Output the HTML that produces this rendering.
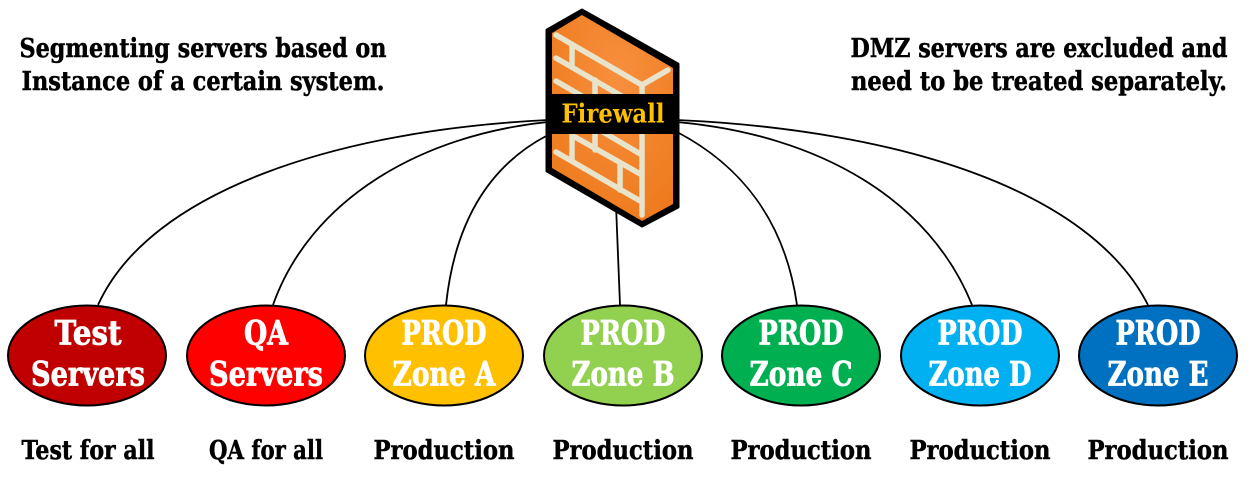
<!DOCTYPE html>
<html>
<head>
<meta charset="utf-8">
<style>
html,body{margin:0;padding:0;background:#fff}
svg{display:block}
text{font-family:"DejaVu Serif","Liberation Serif",serif;font-weight:bold;text-anchor:middle}
.k{font-size:26.5px;fill:#000;stroke:#000;stroke-width:.5px}
.n{font-size:33.5px;fill:#fff;stroke:#fff;stroke-width:.8px}
</style>
</head>
<body>
<svg width="1251" height="480" viewBox="0 0 1251 480" xmlns="http://www.w3.org/2000/svg">
<defs>
<radialGradient id="g" cx="0.55" cy="0.3" r="0.75">
<stop offset="0" stop-color="#f78f3e"/>
<stop offset="1" stop-color="#ee7a1c"/>
</radialGradient>
</defs>
<g fill="none" stroke="#000" stroke-width="1.8">
<path d="M98 305C150 190 340 130 548 120"/>
<path d="M273 305C310 200 420 135 548 122"/>
<path d="M446 305C455 220 490 165 548 135"/>
<path d="M616 205L620 305"/>
<path d="M797 305C785 220 740 165 677 132"/>
<path d="M972 305C930 200 820 135 677 122"/>
<path d="M1148 305C1090 190 900 130 677 120"/>
</g>
<polygon points="582,10 547,30 547,171 642,226 678,207 678,64" fill="#000" stroke="#000" stroke-width="3" stroke-linejoin="round"/>
<polygon points="582,15 552,33 552,168 642,221 673,204 673,68" fill="url(#g)"/>
<g fill="none" stroke="#e8e4cc" stroke-width="5.5" stroke-linecap="round">
<path d="M556 35L642 85M668 70L642 85L642 215"/>
<path d="M556 58L625 98"/>
<path d="M556 81L592 102"/>
<path d="M556 152L642 202"/>
<path d="M572 47V67"/>
<path d="M595 80V100M595 130V150"/>
<path d="M572 132V160"/>
<path d="M620 166V190"/>
<path d="M575 137L642 175"/>
<path d="M603 132L642 155"/>
</g>
<rect x="546" y="94" width="133" height="40" fill="#000"/>
<text x="613" y="122.500" font-size="26" fill="#ffc000" textLength="103" lengthAdjust="spacingAndGlyphs">Firewall</text>

<text class="k" x="203" y="57" textLength="367" lengthAdjust="spacingAndGlyphs">Segmenting servers based on</text>
<text class="k" x="203" y="90" textLength="363" lengthAdjust="spacingAndGlyphs">Instance of a certain system.</text>
<text class="k" x="1039" y="57" textLength="377" lengthAdjust="spacingAndGlyphs">DMZ servers are excluded and</text>
<text class="k" x="1039" y="90" textLength="376" lengthAdjust="spacingAndGlyphs">need to be treated separately.</text>

<g stroke="#000" stroke-width="2">
<ellipse cx="87" cy="355.500" rx="79" ry="50" fill="#c00000"/>
<ellipse cx="266" cy="355.500" rx="79" ry="50" fill="#ff0000"/>
<ellipse cx="444" cy="355.500" rx="79" ry="50" fill="#ffc000"/>
<ellipse cx="623" cy="355.500" rx="79" ry="50" fill="#92d050"/>
<ellipse cx="801" cy="355.500" rx="79" ry="50" fill="#00b050"/>
<ellipse cx="980" cy="355.500" rx="79" ry="50" fill="#00b0f0"/>
<ellipse cx="1158" cy="355.500" rx="79" ry="50" fill="#0070c0"/>
</g>

<text class="n" x="88" y="344.500" textLength="67" lengthAdjust="spacingAndGlyphs">Test</text>
<text class="n" x="88" y="385.500" textLength="114" lengthAdjust="spacingAndGlyphs">Servers</text>
<text class="n" x="266" y="344.500" textLength="44" lengthAdjust="spacingAndGlyphs">QA</text>
<text class="n" x="266" y="385.500" textLength="114" lengthAdjust="spacingAndGlyphs">Servers</text>
<text class="n" x="444" y="344.500" textLength="85" lengthAdjust="spacingAndGlyphs">PROD</text>
<text class="n" x="444" y="385.500" textLength="103" lengthAdjust="spacingAndGlyphs">Zone A</text>
<text class="n" x="623" y="344.500" textLength="85" lengthAdjust="spacingAndGlyphs">PROD</text>
<text class="n" x="623" y="385.500" textLength="103" lengthAdjust="spacingAndGlyphs">Zone B</text>
<text class="n" x="801" y="344.500" textLength="85" lengthAdjust="spacingAndGlyphs">PROD</text>
<text class="n" x="801" y="385.500" textLength="103" lengthAdjust="spacingAndGlyphs">Zone C</text>
<text class="n" x="980" y="344.500" textLength="85" lengthAdjust="spacingAndGlyphs">PROD</text>
<text class="n" x="980" y="385.500" textLength="103" lengthAdjust="spacingAndGlyphs">Zone D</text>
<text class="n" x="1158" y="344.500" textLength="85" lengthAdjust="spacingAndGlyphs">PROD</text>
<text class="n" x="1158" y="385.500" textLength="101" lengthAdjust="spacingAndGlyphs">Zone E</text>

<text class="k" x="88" y="459" textLength="133" lengthAdjust="spacingAndGlyphs">Test for all</text>
<text class="k" x="266" y="459" textLength="114" lengthAdjust="spacingAndGlyphs">QA for all</text>
<text class="k" x="444" y="459" textLength="141" lengthAdjust="spacingAndGlyphs">Production</text>
<text class="k" x="623" y="459" textLength="141" lengthAdjust="spacingAndGlyphs">Production</text>
<text class="k" x="801" y="459" textLength="141" lengthAdjust="spacingAndGlyphs">Production</text>
<text class="k" x="980" y="459" textLength="141" lengthAdjust="spacingAndGlyphs">Production</text>
<text class="k" x="1158" y="459" textLength="141" lengthAdjust="spacingAndGlyphs">Production</text>
</svg>
</body>
</html>
